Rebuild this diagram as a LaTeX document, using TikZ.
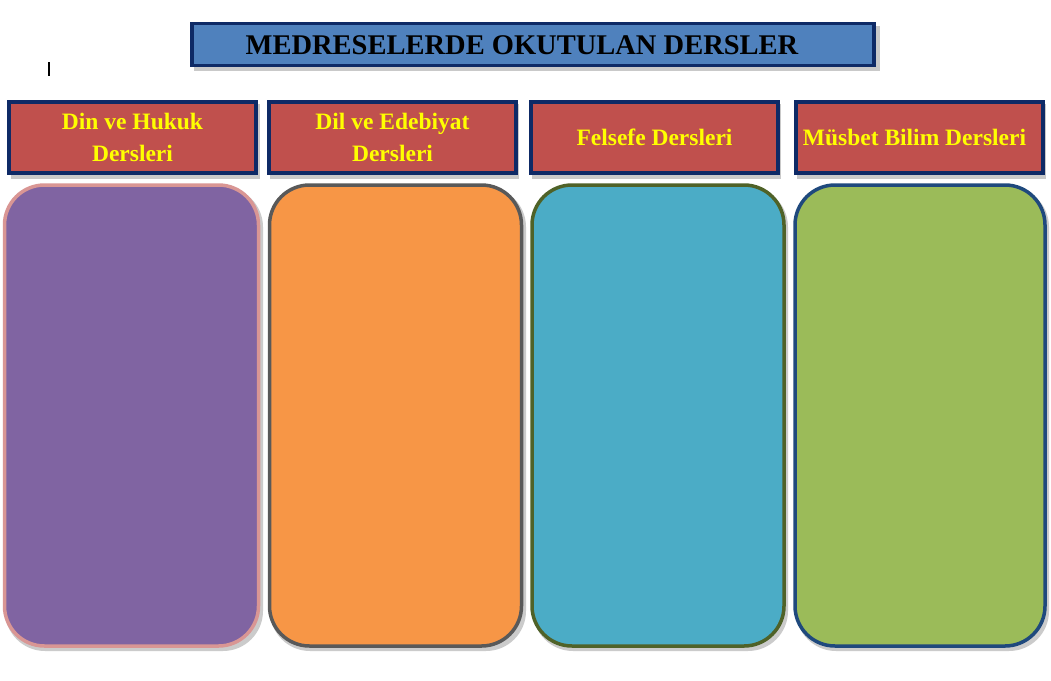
\documentclass[tikz,border=0pt]{standalone}
\usepackage{fontspec}
\setmainfont{Liberation Serif}
\begin{document}
\begin{tikzpicture}[x=1pt,y=-1pt,
  titlebox/.style={draw=navyb,line width=3.5pt,fill=titleblue,minimum width=682pt,minimum height=42pt,inner sep=0pt},
  titletext/.style={inner sep=0pt,font=\fontsize{28.5}{32}\selectfont\bfseries},
  headbox/.style={draw=navyb,line width=3.5pt,fill=headred,minimum width=247pt,minimum height=71pt,inner sep=0pt,
     align=center,text=yellowt,font=\fontsize{23.5}{32}\selectfont\bfseries},
  panel/.style={line width=3.5pt,rounded corners=40pt,minimum width=252pt,minimum height=461pt,inner sep=0pt},
  shade/.style={fill=black!35,opacity=0.6}
]
\definecolor{navyb}{HTML}{0E2A66}
\definecolor{titleblue}{HTML}{4F81BD}
\definecolor{headred}{HTML}{C0504D}
\definecolor{yellowt}{HTML}{FFFF00}
\useasboundingbox (0,0) rectangle (1051,680);
\fill[white] (0,0) rectangle (1051,680);
% shadows
\fill[shade] (194,26) rectangle (880,71);
\foreach \x in {11,270,532,797}{\fill[shade] (\x,104) rectangle (\x+249,179);}
% title
\node[titlebox] (title) at (533,44.5) {};
\node[titletext] (titlet) at (522,45.5) {MEDRESELERDE OKUTULAN DERSLER};
% cursor mark
\coordinate (c1) at (48.5,62);
\coordinate (c2) at (48.5,76);
\draw[line width=2pt] (c1) -- (c2);
% headers
\node[headbox] (h1) at (132.5,137.5) {Din ve Hukuk\\Dersleri};
\node[headbox] (h2) at (392.5,137.5) {Dil ve Edebiyat\\Dersleri};
\node[headbox] (h3) at (654.5,137.5) {Felsefe Dersleri};
\node[headbox] (h4) at (919.5,137.5) {\hspace*{-10pt}Müsbet Bilim Dersleri};
% panel shadows
\fill[black!40,opacity=0.5,rounded corners=40pt] (5,187) rectangle (263,651);
\fill[black!40,opacity=0.5,rounded corners=40pt] (270,187) rectangle (526,651);
\fill[black!40,opacity=0.5,rounded corners=40pt] (533,187) rectangle (788,651);
\fill[black!40,opacity=0.5,rounded corners=40pt] (796,187) rectangle (1049,651);
% panels
\node[panel,draw={rgb,255:red,217;green,150;blue,148},fill={rgb,255:red,128;green,100;blue,162},minimum width=254pt] (p1) at (131.5,415.5) {};
\node[panel,draw={rgb,255:red,89;green,89;blue,89},fill={rgb,255:red,247;green,150;blue,70}] (p2) at (395.5,415.5) {};
\node[panel,draw={rgb,255:red,79;green,98;blue,40},fill={rgb,255:red,75;green,172;blue,198}] (p3) at (658,415.5) {};
\node[panel,draw={rgb,255:red,31;green,73;blue,125},fill={rgb,255:red,155;green,187;blue,89},minimum width=250pt] (p4) at (920,415.5) {};
\end{tikzpicture}
\end{document}
